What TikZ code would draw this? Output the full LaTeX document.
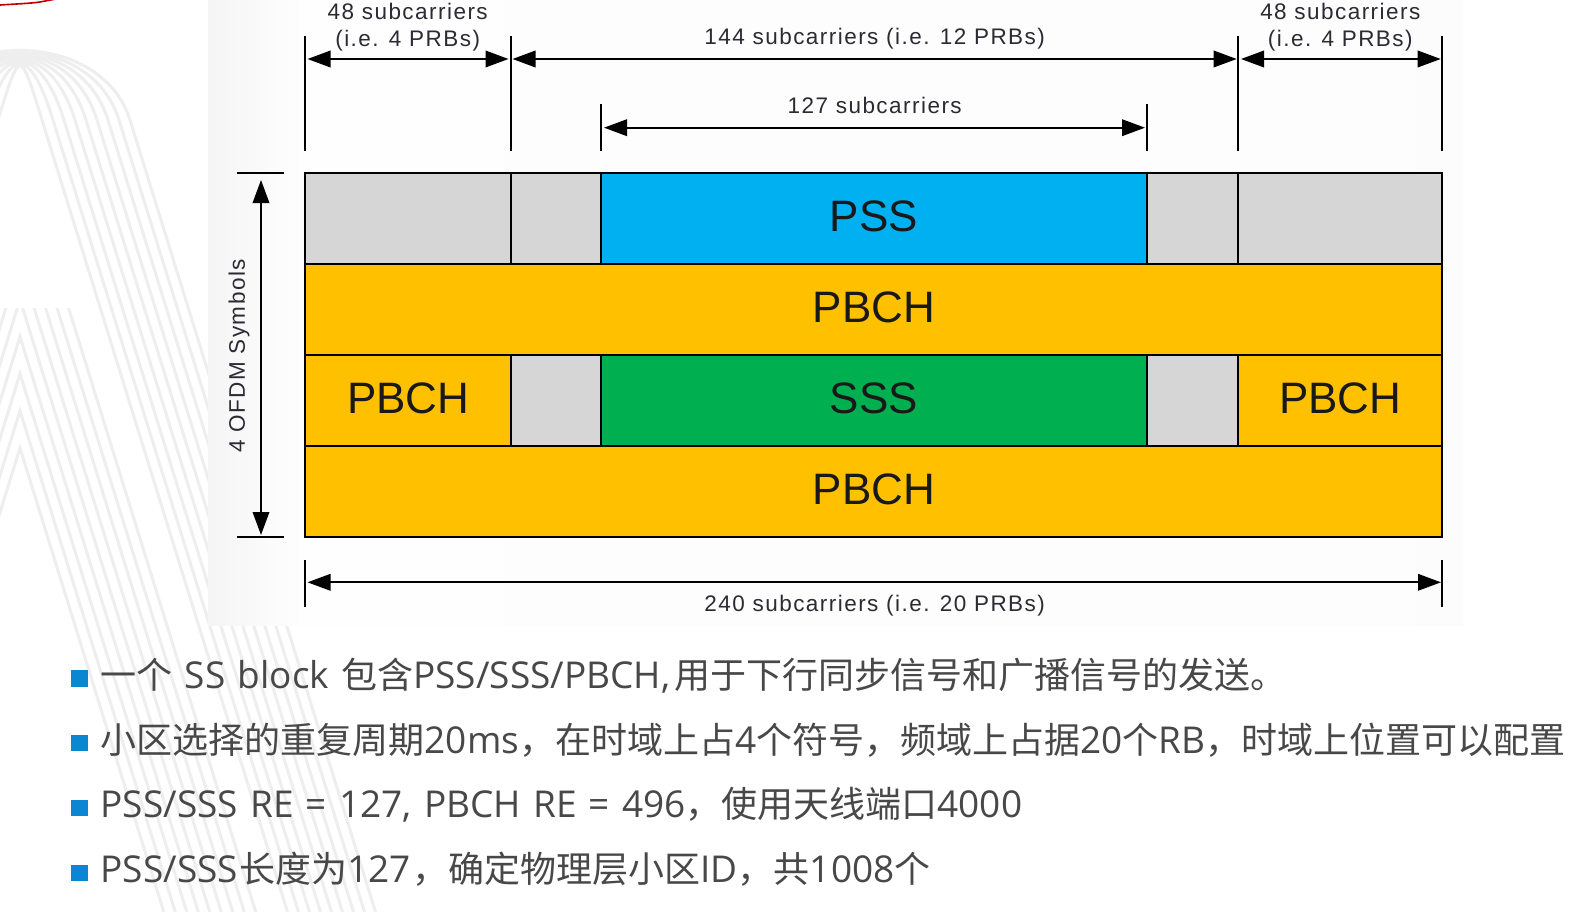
\documentclass[tikz,border=0pt]{standalone}
\usepackage{fontspec}
\usetikzlibrary{arrows.meta}
\setmainfont{Liberation Sans}
\newfontfamily\labelfont[LetterSpace=6.5]{Liberation Sans}
\newfontfamily\bodyfont{Noto Sans CJK SC}
\newfontfamily\latfont[WordSpace=1.27]{Open Sans}
\newcommand{\lat}[1]{{\latfont\fontsize{37}{37}\selectfont #1}}
\definecolor{cellgrey}{HTML}{D6D6D6}
\definecolor{cellblue}{HTML}{00B0F0}
\definecolor{cellgreen}{HTML}{00B050}
\definecolor{cellorange}{HTML}{FFC000}
\definecolor{labelink}{HTML}{2B2B33}
\definecolor{bodyink}{HTML}{484848}
\definecolor{bulletblue}{HTML}{0A86D2}
\definecolor{bandgrey}{HTML}{EEEEEE}
\tikzset{
  cell/.style={draw=black,line width=1.9pt,outer sep=0pt,inner sep=0pt,anchor=north west,text depth=5pt,font=\fontsize{44}{44}\selectfont,text=black!90},
  tick/.style={draw=black,line width=1.9pt},
  dim/.style={draw=black,line width=1.9pt,{Triangle[length=23pt,width=16.5pt]}-{Triangle[length=23pt,width=16.5pt]}},
  dimlabel/.style={font=\labelfont\fontsize{22.5}{27}\selectfont,text=labelink,align=center,inner sep=0pt},
  bullet/.style={fill=bulletblue,inner sep=0pt,outer sep=0pt,minimum width=16.5pt,minimum height=16.5pt,anchor=north west},
  bodytext/.style={font=\bodyfont\fontsize{36}{36}\selectfont,text=bodyink,inner sep=0pt,anchor=base west},
  bandline/.style={draw=bandgrey,line width=3pt}
}
\begin{document}
\begin{tikzpicture}[x=1pt,y=-1pt]
\useasboundingbox (0,0) rectangle (1581,912);
\fill[white] (0,0) rectangle (1581,912);
% background bands
\foreach \k in {0,...,8}{
  \pgfmathsetmacro\w{22+11*\k}
  \pgfmathsetmacro\cy{48-2.6*\k}
  \pgfmathsetmacro\dx{\w-0.31*(120-\cy)}
  \draw[bandline] (20-\w-155,620) -- (20-\w,120) .. controls (20-\dx,\cy) and (20+\dx,\cy) .. (20+\w,120) -- (20+\w+245.5,912);
}
\begin{scope}
\clip (0,308) rectangle (600,912);
\foreach \k in {0,...,8}{
  \pgfmathsetmacro\ay{448-37.1*\k}
  \draw[bandline] (20-143.8-11.5*\k,912) -- (20,\ay) -- (20+143.8+11.5*\k,912);
}
\end{scope}
% red stroke
\draw[draw=red!75!black,line width=1.6pt] (0,5) .. controls (15,4) and (30,3.5) .. (40,2) -- (56,-1);
% panel
\shade[left color=black!4,right color=black!0.5] (208,0) rectangle (300,625);
\shade[left color=black!0.5,right color=black!1] (300,0) rectangle (1463,625);
% cells
\node[cell,fill=cellgrey,minimum width=205.7pt,minimum height=91.6pt] (g1) at (305.3,172.7) {};
\node[cell,fill=cellgrey,minimum width=90pt,minimum height=91.6pt] (g2) at (511,172.7) {};
\node[cell,fill=cellblue,minimum width=545.7pt,minimum height=91.6pt] (pss) at (601,172.7) {PSS};
\node[cell,fill=cellgrey,minimum width=91.6pt,minimum height=91.6pt] (g3) at (1146.7,172.7) {};
\node[cell,fill=cellgrey,minimum width=204pt,minimum height=91.6pt] (g4) at (1238.3,172.7) {};
\node[cell,fill=cellorange,minimum width=1137pt,minimum height=90.4pt] (pbcha) at (305.3,264.3) {PBCH};
\node[cell,fill=cellorange,minimum width=205.7pt,minimum height=91.6pt] (pbchl) at (305.3,354.7) {PBCH};
\node[cell,fill=cellgrey,minimum width=90pt,minimum height=91.6pt] (g5) at (511,354.7) {};
\node[cell,fill=cellgreen,minimum width=545.7pt,minimum height=91.6pt] (sss) at (601,354.7) {SSS};
\node[cell,fill=cellgrey,minimum width=91.6pt,minimum height=91.6pt] (g6) at (1146.7,354.7) {};
\node[cell,fill=cellorange,minimum width=204pt,minimum height=91.6pt] (pbchr) at (1238.3,354.7) {PBCH};
\node[cell,fill=cellorange,minimum width=1137pt,minimum height=90.4pt] (pbchb) at (305.3,446.3) {PBCH};
% ticks
\foreach \n/\x in {a/305.3,b/511,d/1238.3,e/1442.3}{
  \coordinate (t\n) at (\x,36);
  \coordinate (u\n) at (\x,151);
  \draw[tick] (t\n) -- (u\n);
}
\coordinate (tf) at (601,104); \coordinate (uf) at (601,151); \draw[tick] (tf) -- (uf);
\coordinate (tg) at (1146.7,104); \coordinate (ug) at (1146.7,151); \draw[tick] (tg) -- (ug);
\coordinate (bla) at (305.3,560); \coordinate (blb) at (305.3,607); \draw[tick] (bla) -- (blb);
\coordinate (bra) at (1442.3,560); \coordinate (brb) at (1442.3,607); \draw[tick] (bra) -- (brb);
\coordinate (lta) at (236.7,172.7); \coordinate (ltb) at (284,172.7); \draw[tick] (lta) -- (ltb);
\coordinate (lba) at (236.7,536.7); \coordinate (lbb) at (284,536.7); \draw[tick] (lba) -- (lbb);
% dimension arrows
\coordinate (d1a) at (307.5,59); \coordinate (d1b) at (508.5,59);
\coordinate (d2a) at (512.5,59); \coordinate (d2b) at (1236.7,59);
\coordinate (d3a) at (1241,59); \coordinate (d3b) at (1440.7,59);
\coordinate (d4a) at (604,127.7); \coordinate (d4b) at (1145,127.7);
\coordinate (d5a) at (307.5,582.3); \coordinate (d5b) at (1441,582.3);
\coordinate (d6a) at (261,180); \coordinate (d6b) at (261,535);
\draw[dim] (d1a) -- (d1b);
\draw[dim] (d2a) -- (d2b);
\draw[dim] (d3a) -- (d3b);
\draw[dim] (d4a) -- (d4b);
\draw[dim] (d5a) -- (d5b);
\draw[dim] (d6a) -- (d6b);
% dimension labels
\node[dimlabel] (l1) at (407.7,27) {48 subcarriers\\(i.e. 4 PRBs)};
\node[dimlabel] (l2) at (874.7,39) {144 subcarriers (i.e. 12 PRBs)};
\node[dimlabel] (l3) at (1340.3,27) {48 subcarriers\\(i.e. 4 PRBs)};
\node[dimlabel] (l4) at (874.7,105) {127 subcarriers};
\node[dimlabel] (l5) at (874.7,606) {240 subcarriers (i.e. 20 PRBs)};
\node[dimlabel,rotate=90] (l6) at (239,356) {4 OFDM Symbols};
% bullets
\node[bullet] (b1) at (71,670) {};
\node[bullet] (b2) at (71,734.5) {};
\node[bullet] (b3) at (71,799.5) {};
\node[bullet] (b4) at (71,864.5) {};
\node[bodytext] (s1) at (100.5,688.7) {一个\lat{ SS block }包含\lat{PSS/SSS/PBCH,}\hspace{4pt}用于下行同步信号和广播信号的发送。};
\node[bodytext] (s2) at (100.5,753) {小区选择的重复周期\lat{20ms}，在时域上占\lat{4}个符号，频域上占据\lat{20}个\lat{RB}，时域上位置可以配置};
\node[bodytext] (s3) at (100.5,817) {\lat{PSS/SSS RE = 127, PBCH RE = 496}，使用天线端口\lat{4000}};
\node[bodytext] (s4) at (100.5,882) {\lat{PSS/SSS}\hspace{1.5pt}长度为\lat{127}\hspace{1.5pt}，确定物理层小区\lat{ID}，共\lat{1008}个};
\end{tikzpicture}
\end{document}
